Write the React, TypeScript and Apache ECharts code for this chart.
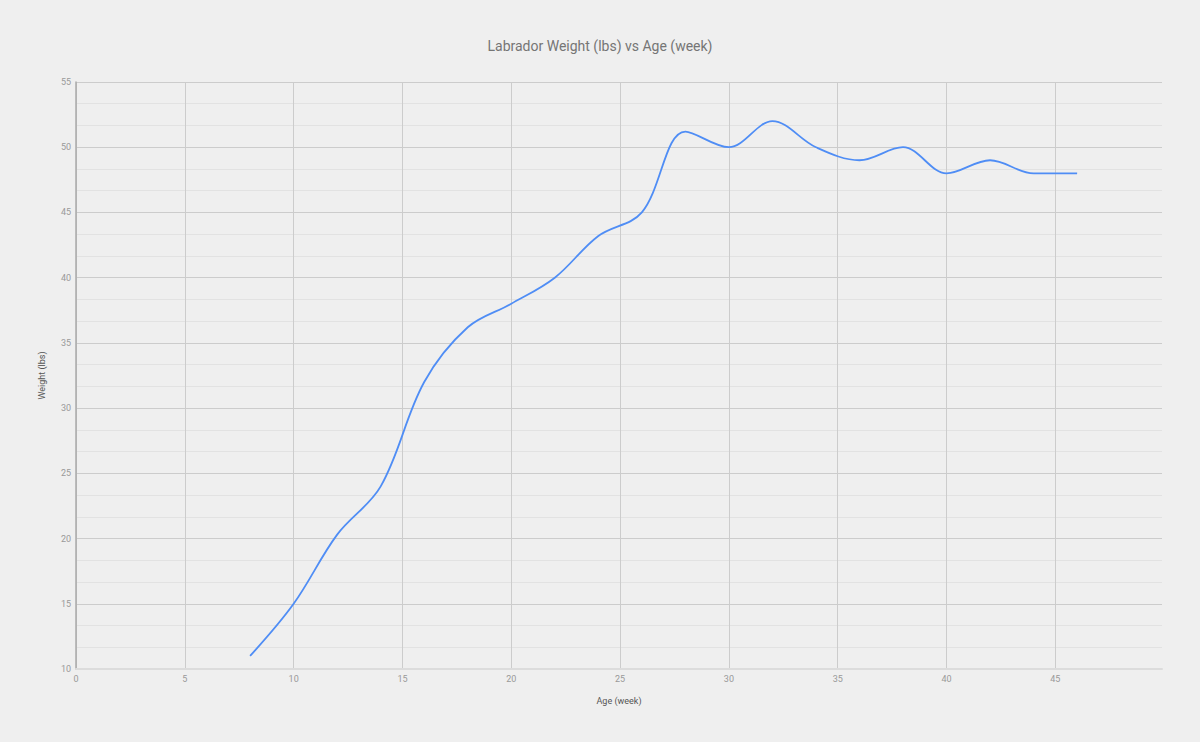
import React, { useEffect, useRef } from "react";
import * as echarts from "echarts";

const ages = [8, 10, 12, 14, 16, 18, 20, 22, 24, 26, 28, 30, 32, 34, 36, 38, 40, 42, 44, 46];
const weights = [11, 15, 20.3, 24, 32, 36.2, 38, 40, 43.2, 45, 51.2, 50, 52, 50, 49, 50, 48, 49, 48, 48];

const TITLE = "Labrador Weight (lbs) vs Age (week)";
const X_NAME = "Age (week)";
const Y_NAME = "Weight (lbs)";

export default function App() {
  const ref = useRef<HTMLDivElement>(null);
  useEffect(() => {
    if (!ref.current) return;
    const chart = echarts.init(ref.current, undefined, { renderer: "svg" });
    const font = "Roboto, Arial, sans-serif";
    chart.setOption({
      animation: false,
      backgroundColor: "#efefef",
      textStyle: { fontFamily: font },
      title: {
        text: TITLE,
        left: "center",
        top: 34,
        textStyle: { fontFamily: font, fontSize: 14, fontWeight: "normal", color: "#757575" },
      },
      grid: { left: 76, right: 38, top: 82, bottom: 73, containLabel: false },
      xAxis: {
        type: "value",
        min: 0,
        max: 49.9,
        interval: 5,
        name: X_NAME,
        nameLocation: "middle",
        nameGap: 27,
        nameTextStyle: { fontSize: 9, color: "#555", fontFamily: font },
        axisLine: { show: true, lineStyle: { color: "#dcdcdc", width: 2 } },
        axisTick: { show: false },
        axisLabel: { fontSize: 9, color: "#999", margin: 5, fontFamily: font, showMaxLabel: false },
        splitLine: { show: true, showMaxLine: false, lineStyle: { color: "#cccccc", width: 1 } },
      },
      yAxis: {
        type: "value",
        min: 10,
        max: 55,
        interval: 5,
        name: Y_NAME,
        nameLocation: "middle",
        nameGap: 30,
        nameRotate: 90,
        nameTextStyle: { fontSize: 9, color: "#555", fontFamily: font },
        axisLine: { show: true, lineStyle: { color: "#aaaaaa", width: 1.5 } },
        axisTick: { show: false },
        axisLabel: { fontSize: 9, color: "#999", margin: 5, fontFamily: font },
        splitLine: { show: true, lineStyle: { color: "#cccccc", width: 1 } },
        minorTick: { show: false, splitNumber: 3 },
        minorSplitLine: { show: true, lineStyle: { color: "#e2e2e2", width: 1 } },
      },
      series: [
        {
          type: "line",
          data: ages.map((a, i) => [a, weights[i]]),
          smooth: 0.35,
          showSymbol: false,
          symbol: "none",
          lineStyle: { color: "#4f8df5", width: 1.8 },
        },
      ],
    });
    return () => chart.dispose();
  }, []);
  return (
    <div
      ref={ref}
      style={{ position: "fixed", left: 0, top: 0, width: 1200, height: 742 }}
    />
  );
}
